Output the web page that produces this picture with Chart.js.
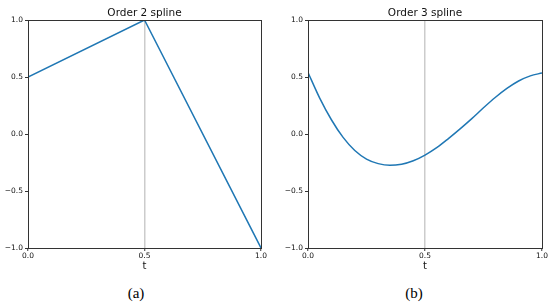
<!DOCTYPE html>
<html>
<head>
<meta charset="utf-8">
<title>Spline orders</title>
<script src="https://cdn.jsdelivr.net/npm/chart.js@4.4.1/dist/chart.umd.min.js"></script>
<style>
  body { margin: 0; background: #fff; }
  #wrap { position: relative; width: 550px; height: 307px; }
  .panel { position: absolute; top: 0; width: 270px; height: 280px; }
  .cap { position: absolute; top: 285px; font-family: "Liberation Serif", serif; font-size: 15px; color: #000; transform: translateX(-50%); }
</style>
</head>
<body>
<div id="wrap">
  <div class="panel" style="left:0"><canvas id="chartA"></canvas></div>
  <div class="panel" style="left:280px"><canvas id="chartB"></canvas></div>
  <div class="cap" style="left:136px">(a)</div>
  <div class="cap" style="left:414px">(b)</div>
</div>
<script>
// order 2 spline (piecewise linear)
var tA = [0, 0.5, 1];
var splineA = [0.5, 1, -1];
// order 3 spline
var tB = [0, 0.05, 0.1, 0.15, 0.2, 0.25, 0.3, 0.35, 0.4, 0.45, 0.5, 0.55, 0.6, 0.65, 0.7, 0.75, 0.8, 0.85, 0.9, 0.95, 1];
var splineB = [0.54, 0.315, 0.125, -0.03, -0.145, -0.22, -0.26, -0.275, -0.265, -0.235, -0.185, -0.12, -0.04, 0.045, 0.135, 0.23, 0.32, 0.40, 0.465, 0.51, 0.535];
var xTicks = [0, 0.5, 1];
var yTicks = [-1, -0.5, 0, 0.5, 1];
var titles = ["Order 2 spline", "Order 3 spline"];

var dark = "#333333";
var fmt = function (v) { return Number(v).toFixed(1).replace("-", "\u2212"); };

var framePlugin = {
  id: "frame",
  afterDraw: function (chart, args, opts) {
    var a = chart.chartArea, c = chart.ctx;
    c.save();
    c.strokeStyle = dark;
    c.lineWidth = 1;
    c.strokeRect(Math.round(a.left) + 0.5, Math.round(a.top) + 0.5, Math.round(a.right - a.left), Math.round(a.bottom - a.top));
    c.fillStyle = "#111";
    c.font = "10.5px 'DejaVu Sans'";
    c.textAlign = "center";
    c.textBaseline = "middle";
    c.fillText(opts.text, (a.left + a.right) / 2, a.top - 7);
    c.restore();
  }
};

function makeChart(id, t, vals, title, padRight) {
  var pts = t.map(function (x, i) { return { x: x, y: vals[i] }; });
  return new Chart(document.getElementById(id), {
    type: "line",
    data: {
      datasets: [{
        data: pts,
        borderColor: "#1f77b4",
        borderWidth: 1.5,
        pointRadius: 0,
        cubicInterpolationMode: t.length > 3 ? "monotone" : "default",
        tension: 0,
        fill: false
      }]
    },
    options: {
      responsive: true,
      maintainAspectRatio: false,
      animation: false,
      layout: { padding: { top: 20, right: padRight, bottom: 8, left: 0 } },
      plugins: {
        legend: { display: false },
        tooltip: { enabled: false },
        frame: { text: title }
      },
      scales: {
        x: {
          type: "linear",
          min: 0, max: 1,
          afterBuildTicks: function (s) { s.ticks = xTicks.map(function (v) { return { value: v }; }); },
          afterFit: function (s) { s.height = 24; },
          ticks: { callback: fmt, font: { family: "DejaVu Sans", size: 7.5 }, color: "#111", padding: 1, maxRotation: 0 },
          grid: {
            color: function (ctx) { return ctx.tick && ctx.tick.value === 0.5 ? "#cccccc" : "rgba(0,0,0,0)"; },
            lineWidth: 1.5,
            tickColor: dark,
            tickWidth: 1,
            tickLength: 3
          },
          border: { color: dark, width: 1 },
          title: { display: true, text: "t", font: { family: "DejaVu Sans", size: 10 }, color: "#111", padding: { top: 0, bottom: 0 } }
        },
        y: {
          min: -1, max: 1,
          afterBuildTicks: function (s) { s.ticks = yTicks.map(function (v) { return { value: v }; }); },
          afterFit: function (s) { s.width = 28; },
          ticks: { callback: fmt, font: { family: "DejaVu Sans", size: 7.5 }, color: "#111", padding: 2 },
          grid: { drawOnChartArea: false, tickColor: dark, tickLength: 3 },
          border: { color: dark, width: 1 }
        }
      }
    },
    plugins: [framePlugin]
  });
}

makeChart("chartA", tA, splineA, titles[0], 9);
makeChart("chartB", tB, splineB, titles[1], 8);
</script>
</body>
</html>
